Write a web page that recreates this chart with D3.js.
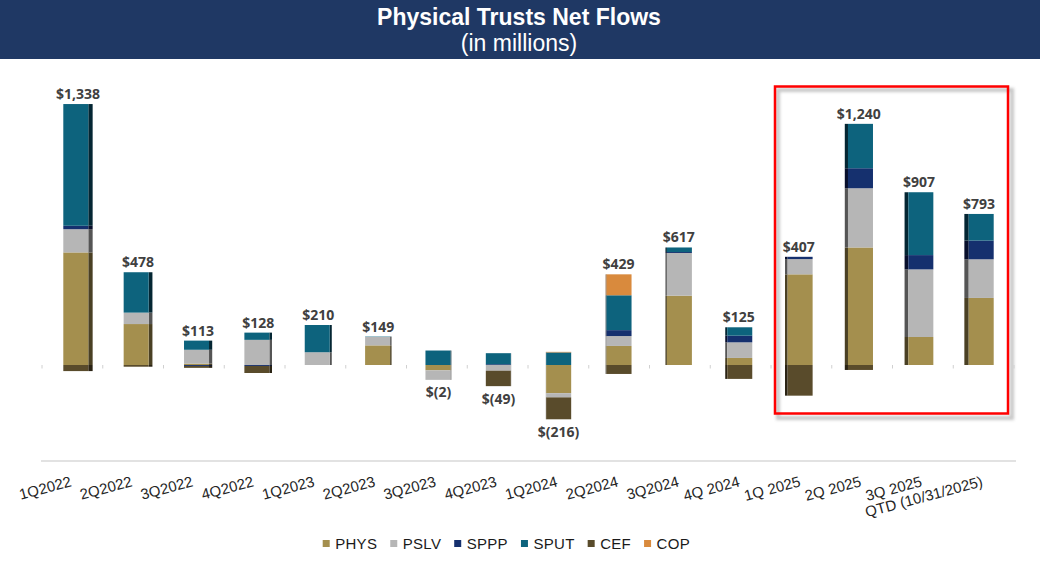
<!DOCTYPE html>
<html><head><meta charset="utf-8">
<script src="https://cdn.jsdelivr.net/npm/d3@7"></script>
<style>
html,body{margin:0;padding:0;background:#fff;}
svg{display:block;}
</style></head>
<body>
<svg id="chart" width="1046" height="562"></svg>
<script>
// ---------- DATA ----------
const categories = ["1Q2022","2Q2022","3Q2022","4Q2022","1Q2023","2Q2023","3Q2023","4Q2023","1Q2024","2Q2024","3Q2024","4Q 2024","1Q 2025","2Q 2025","3Q 2025","QTD (10/31/2025)"];
const seriesNames = ["PHYS","PSLV","SPPP","SPUT","CEF","COP"];
const PHYS = [591,215,7,0,0,103,-28,0,-148,100,364,37,476,617,147,352];
const PSLV = [122,60,73,132,67,44,-50,-30,-22,52,224,82,80,311,355,203];
const SPPP = [18,0,-5,-5,0,0,0,4,0,31,5,35,12,105,75,98];
const SPUT = [639,212,48,38,143,2,76,58,66,183,24,44,0,233,330,140];
const CEF  = [-32,-9,-10,-37,0,0,0,-81,-115,-47,0,-73,-161,-26,0,0];
const COP  = [0,0,0,0,0,0,0,0,3,110,0,0,0,0,0,0];
const totals = [1338,478,113,128,210,149,-2,-49,-216,429,617,125,407,1240,907,793];

const colors = {PHYS:"#a48f4e",PSLV:"#b6b6b6",SPPP:"#15306e",SPUT:"#0d637d",CEF:"#594b2b",COP:"#d98a3d"};
const sideColors = {PHYS:"#4a4024",PSLV:"#555555",SPPP:"#080f2c",SPUT:"#042633",CEF:"#2a2314",COP:"#6a421c"};

// ---------- SETUP ----------
const svg = d3.select("#chart");
const font = "'Liberation Sans', Arial, sans-serif";

// title banner
svg.append("rect").attr("x",0).attr("y",0).attr("width",1040).attr("height",59).attr("fill","#1f3864");
svg.append("text").attr("x",519).attr("y",25).attr("text-anchor","middle")
  .attr("font-family",font).attr("font-weight","bold").attr("font-size",23).attr("fill","#fff")
  .text("Physical Trusts Net Flows");
svg.append("text").attr("x",519).attr("y",51).attr("text-anchor","middle")
  .attr("font-family",font).attr("font-size",23).attr("fill","#fff")
  .text("(in millions)");

// data table
const table = categories.map((c,i)=>({cat:c,PHYS:PHYS[i],PSLV:PSLV[i],SPPP:SPPP[i],SPUT:SPUT[i],CEF:CEF[i],COP:COP[i],total:totals[i],idx:i}));
const stack = d3.stack().keys(seriesNames).offset(d3.stackOffsetDiverging);
const stacked = stack(table);

// scales
const xBand = d3.scaleBand().domain(categories).range([42,1014]).paddingInner(0).paddingOuter(0);
const xBar = d3.scalePoint().domain(categories).range([75.8,981.2]);
const y = d3.scaleLinear().domain([-500,1400]).range([365+500/5.25, 365-1400/5.25]);

const faceW = 25;
const sideW = i => Math.abs(i-7.5)*0.58;

// red highlight box shadow
const defs = svg.append("defs");
const f = defs.append("filter").attr("id","blur").attr("x","-10%").attr("y","-10%").attr("width","120%").attr("height","120%");
f.append("feGaussianBlur").attr("stdDeviation",1.5);
svg.append("rect").attr("x",778).attr("y",90).attr("width",234).attr("height",328)
  .attr("fill","none").attr("stroke","#c8c8c8").attr("stroke-width",4).attr("filter","url(#blur)");

// x axis line at bottom
svg.append("line").attr("x1",41).attr("x2",1016).attr("y1",461).attr("y2",461)
  .attr("stroke","#d9d9d9").attr("stroke-width",1.5);

// tick marks on zero line
const tickPos = categories.map(c=>xBand(c)).concat([xBand.range()[1]]);
svg.append("g").selectAll("line").data(tickPos).join("line")
  .attr("x1",d=>d).attr("x2",d=>d).attr("y1",y(0)).attr("y2",y(0)+3.5)
  .attr("stroke","#d0d0d0").attr("stroke-width",1);

// bars
const gBars = svg.append("g");
stacked.forEach(s=>{
  const key = s.key;
  const g = gBars.append("g");
  s.forEach((d,i)=>{
    const y0 = y(d[0]), y1 = y(d[1]);
    const top = Math.min(y0,y1), h = Math.abs(y0-y1);
    if (h < 0.01) return;
    const cx = xBar(categories[i]);
    const fx = cx - faceW/2;
    const sw = sideW(i);
    const sx = i < 7.5 ? fx + faceW : fx - sw;
    g.append("rect").attr("x",sx).attr("y",top).attr("width",sw).attr("height",h).attr("fill",sideColors[key]);
    g.append("rect").attr("x",fx).attr("y",top).attr("width",faceW).attr("height",h).attr("fill",colors[key]);
  });
});

// total labels
const fmt = d3.format(",");
const labelOf = v => v < 0 ? "$(" + fmt(-v) + ")" : "$" + fmt(v);
const maxStack = table.map((d,i)=>d3.max(stacked, s=>s[i][1]));
const minStack = table.map((d,i)=>d3.min(stacked, s=>s[i][0]));
svg.append("g").selectAll("text").data(table).join("text")
  .attr("x",(d,i)=>xBar(d.cat) + (i<7.5?1:-1)*sideW(i)/2)
  .attr("y",(d,i)=> d.total >= 0 ? y(maxStack[i]) - 5 : y(minStack[i]) + 17.5)
  .attr("text-anchor","middle")
  .attr("font-family","'Open Sans', sans-serif").attr("font-weight",700).attr("font-size",14)
  .attr("fill","#404040")
  .text(d=>labelOf(d.total));

// x labels
svg.append("g").selectAll("text").data(categories).join("text")
  .attr("transform",c=>`translate(${xBand(c)+xBand.bandwidth()/2},486) rotate(-15)`)
  .attr("text-anchor","end")
  .attr("font-family",font).attr("font-size",15).attr("fill","#262626")
  .text(c=>c);

// red box
svg.append("rect").attr("x",775).attr("y",86.5).attr("width",233).attr("height",327)
  .attr("fill","none").attr("stroke","#ff0000").attr("stroke-width",2.5);

// legend
const lg = svg.append("g");
let lx = 322.7;
seriesNames.forEach(k=>{
  lg.append("rect").attr("x",lx).attr("y",540).attr("width",7).attr("height",7).attr("fill",colors[k]);
  const t = lg.append("text").attr("x",lx+12.5).attr("y",549)
    .attr("font-family",font).attr("font-size",15).attr("letter-spacing","0.3px").attr("fill","#1a1a1a").text(k);
  lx = lx + 12.5 + t.node().getComputedTextLength() + 13;
});
</script>
</body></html>
